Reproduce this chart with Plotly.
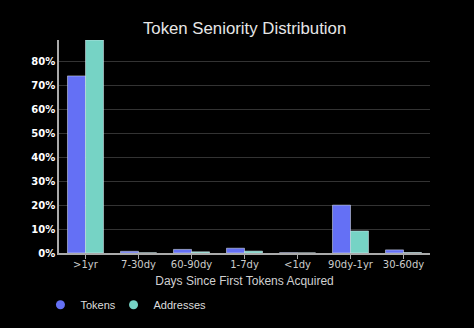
import plotly.graph_objects as go

categories = [">1yr", "7-30dy", "60-90dy", "1-7dy", "<1dy", "90dy-1yr", "30-60dy"]
tokens = [74.0, 0.7, 1.5, 2.0, 0.1, 20.0, 1.3]
addresses = [89.0, 0.1, 0.5, 0.8, 0.05, 9.2, 0.2]
tick_vals = [0, 10, 20, 30, 40, 50, 60, 70, 80]
tick_text = ["0%", "10%", "20%", "30%", "40%", "50%", "60%", "70%", "80%"]

c_tok = "#6470F5"
c_addr = "#76D3C5"

fig = go.Figure()
fig.add_bar(x=categories, y=tokens, name="Tokens", marker_color=c_tok, showlegend=False)
fig.add_bar(x=categories, y=addresses, name="Addresses", marker_color=c_addr, showlegend=False)
fig.add_scatter(x=[None], y=[None], mode="markers", name="Tokens", legend="legend",
                marker=dict(color=c_tok, size=9, symbol="circle"))
fig.add_scatter(x=[None], y=[None], mode="markers", name="Addresses", legend="legend2",
                marker=dict(color=c_addr, size=9, symbol="circle"))

leg_common = dict(orientation="h", xanchor="left", y=-0.243, yanchor="middle",
                  font=dict(size=11, color="#dddddd"), itemwidth=30,
                  bgcolor="rgba(0,0,0,0)")

fig.update_layout(
    width=474, height=328,
    paper_bgcolor="#000000", plot_bgcolor="#000000",
    margin=dict(l=59, r=44, t=40, b=75, autoexpand=False),
    barmode="group", bargap=0.32, bargroupgap=0,
    font=dict(family="Liberation Sans, Arial", color="#dddddd"),
    title=dict(text="Token Seniority Distribution", x=0.516, xanchor="center",
               y=1 - 28/328, yanchor="middle",
               font=dict(size=16.8, color="#e6e6e6")),
    xaxis=dict(title=dict(text="Days Since First Tokens Acquired",
                          font=dict(size=12, color="#d0d0d0"), standoff=8),
               tickfont=dict(size=10, color="#cccccc", family="DejaVu Sans"),
               showline=True, linecolor="#aaaaaa", linewidth=1.5,
               ticks="outside", ticklen=4, tickcolor="#aaaaaa",
               ticklabelstandoff=-3,
               showgrid=False, automargin=False),
    yaxis=dict(range=[0, 89], tickvals=tick_vals, ticktext=tick_text,
               tickfont=dict(size=10, color="#ffffff", family="DejaVu Sans", weight="bold"),
               showline=True, linecolor="#aaaaaa", linewidth=1.5,
               gridcolor="#333333", gridwidth=1, zeroline=False,
               ticks="", automargin=False),
    legend=dict(x=-0.05, **leg_common),
    legend2=dict(x=0.147, **leg_common),
)
fig.write_html("out.html")
